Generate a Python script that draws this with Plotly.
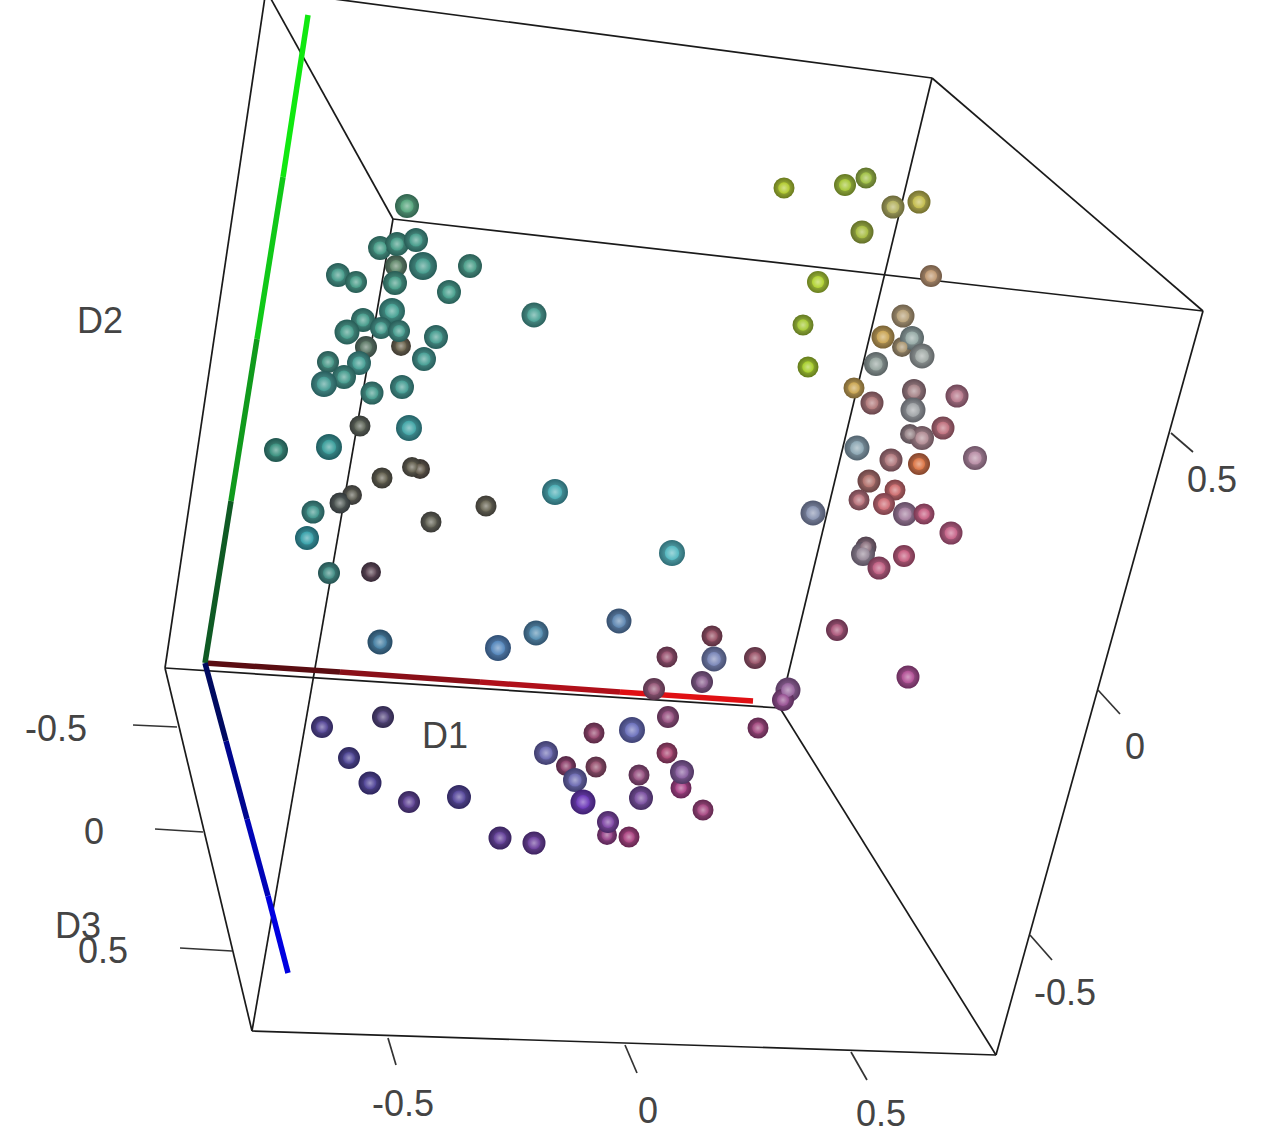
import plotly.graph_objects as go

teal_x = [407, 380, 397, 416, 423, 470, 338, 356, 395, 449, 534, 392, 363, 381, 399, 347, 436, 424, 328, 359, 344, 324, 372, 402, 276, 329, 409, 313, 307, 329, 555, 672]
teal_y = [206, 248, 244, 240, 266, 266, 275, 282, 283, 292, 315, 311, 320, 328, 331, 332, 337, 359, 362, 363, 377, 384, 393, 387, 450, 447, 428, 512, 538, 573, 492, 553]
teal_d = [24, 24, 24, 24, 28, 24, 24, 22, 24, 24, 25, 26, 24, 22, 22, 25, 24, 24, 22, 24, 24, 26, 23, 24, 24, 26, 26, 23, 24, 22, 26, 26]
teal_c = ["#3f9a6c", "#2f8f78", "#2f8f78", "#2f8f7c", "#2f9080", "#33927a", "#2f8f7c", "#2f8f78", "#2f8f78", "#30947f", "#36988a", "#2f9686", "#2f8f7c", "#2f8f80", "#2f8f80", "#2f8f7c", "#2f9082", "#2f9286", "#2f8a78", "#2f9488", "#2f8f80", "#2f9088", "#2f9080", "#2f9286", "#20826e", "#21928e", "#2a9a9c", "#2a8a80", "#1f96a0", "#2a7f76", "#35a4ac", "#3fb0b8"]

dark_x = [396, 366, 401, 360, 382, 420, 412, 352, 340, 431, 486, 371]
dark_y = [266, 347, 346, 426, 478, 469, 467, 495, 503, 522, 506, 572]
dark_d = [22, 22, 20, 21, 21, 20, 20, 20, 21, 21, 21, 20]
dark_c = ["#4f7a5a", "#4a6a55", "#5a5138", "#4a5244", "#4f4c38", "#4a4030", "#4f4a38", "#4a4a3e", "#3f4a46", "#505040", "#55523e", "#4a3040"]

blue_x = [380, 498, 536, 619, 714, 632, 546, 575]
blue_y = [642, 648, 633, 621, 659, 730, 753, 780]
blue_d = [25, 26, 25, 25, 25, 26, 24, 24]
blue_c = ["#2f7098", "#3f78b4", "#3f80a8", "#4a78a8", "#6a78b0", "#5a60b4", "#5a58a8", "#5a58a8"]

purple_x = [322, 383, 349, 370, 409, 459, 500, 534, 583, 641, 682, 608, 788, 783]
purple_y = [727, 717, 758, 783, 802, 797, 838, 843, 802, 798, 772, 822, 690, 700]
purple_d = [22, 22, 22, 23, 22, 24, 23, 23, 25, 24, 24, 22, 25, 22]
purple_c = ["#40308a", "#40306e", "#382e88", "#3a2c8a", "#4a2a86", "#40308e", "#50288c", "#5a2890", "#5a20b0", "#6a3a94", "#7a4a94", "#70309a", "#8a5090", "#8a3a84"]

magenta_x = [712, 667, 755, 702, 654, 668, 758, 594, 667, 566, 596, 639, 681, 703, 607, 629, 837, 908]
magenta_y = [636, 657, 658, 682, 689, 717, 728, 733, 753, 766, 767, 775, 788, 810, 835, 837, 630, 677]
magenta_d = [21, 21, 22, 22, 22, 22, 21, 21, 21, 20, 21, 21, 21, 21, 20, 21, 22, 23]
magenta_c = ["#8a3a50", "#8a3a5c", "#8f4058", "#7a4a80", "#8a4468", "#8a3a70", "#96306e", "#8a2f5c", "#a02f60", "#802a5a", "#8a3a5c", "#8a3a70", "#a02a78", "#9a2f70", "#8a2a7a", "#a02a70", "#a04068", "#a83a88"]

olive_x = [784, 845, 866, 893, 919, 862, 818, 803, 808, 931, 903, 883, 854]
olive_y = [188, 185, 178, 207, 202, 232, 282, 325, 367, 276, 316, 337, 388]
olive_d = [21, 22, 21, 23, 23, 23, 22, 21, 21, 22, 23, 23, 21]
olive_c = ["#a8c414", "#9cc020", "#94b82c", "#aaa84a", "#bcb436", "#9cb428", "#a8ce18", "#9cc41c", "#9cc810", "#b88c60", "#b09668", "#c49a40", "#c49a3c"]

rose_x = [902, 912, 922, 876, 872, 914, 913, 957, 857, 891, 919, 943, 910, 922, 975, 869, 895, 859, 884, 905, 924, 813, 951, 866, 863, 904, 879]
rose_y = [347, 338, 356, 364, 403, 391, 410, 396, 448, 460, 464, 428, 434, 438, 458, 481, 490, 500, 504, 514, 514, 513, 533, 547, 554, 556, 568]
rose_d = [20, 24, 25, 24, 23, 24, 25, 23, 25, 23, 22, 23, 20, 24, 24, 23, 21, 21, 22, 24, 21, 25, 23, 21, 24, 22, 23]
rose_c = ["#a08a60", "#8aa09c", "#96a09c", "#8a9a94", "#a8686a", "#9a7478", "#94989c", "#b0687e", "#7e9caa", "#a8686e", "#d8642e", "#b8606e", "#8a7478", "#a87e86", "#b0809a", "#a8605a", "#c85a5c", "#b0606a", "#c85a64", "#9a7094", "#c04a72", "#7a86a8", "#c0507a", "#7a5c6c", "#8a7a8c", "#c04a70", "#b84a72"]

box_x = [266, 932, None, 932, 1203, None, 1203, 393, None, 393, 266, None,
         165, 780, None, 780, 996, None, 996, 252, None, 252, 165, None,
         266, 165, None, 932, 780, None, 1203, 996, None, 393, 252]
box_y = [-10, 78, None, 78, 311, None, 311, 219, None, 219, -10, None,
         668, 708, None, 708, 1055, None, 1055, 1031, None, 1031, 668, None,
         -10, 668, None, 78, 708, None, 311, 1055, None, 219, 1031]

tick_x = [388, 396, None, 625, 637, None, 851, 867, None,
          1171, 1193, None, 1098, 1120, None, 1030, 1052, None,
          177, 133, None, 203, 155, None, 232, 180]
tick_y = [1038, 1065, None, 1045, 1073, None, 1052, 1080, None,
          433, 452, None, 690, 714, None, 935, 960, None,
          727, 725, None, 832, 829, None, 951, 948]

red_x = [205, 340, 480, 620, 753]
red_y = [663, 672, 682, 692, 701]
red_c = ["#5a0d12", "#8a0f18", "#b0101a", "#e01014"]

green_x = [205, 231, 257, 283, 308]
green_y = [663, 501, 339, 177, 15]
green_c = ["#0f5a24", "#109a1c", "#10c818", "#10e810"]

blue_axis_x = [205, 226, 247, 268, 288]
blue_axis_y = [663, 741, 819, 896, 973]
blue_axis_c = ["#000a60", "#00068e", "#0004b8", "#0000e0"]

label_text = ["D2", "D1", "D3", "-0.5", "0", "0.5", "-0.5", "0", "0.5", "0.5", "0", "-0.5"]
label_x = [100, 445, 78, 56, 94, 103, 403, 648, 881, 1212, 1135, 1065]
label_y = [320, 735, 925, 728, 831, 950, 1103, 1110, 1113, 479, 746, 992]


def mix(hex_color, target, t):
    a = [int(hex_color[i:i + 2], 16) for i in (1, 3, 5)]
    return "rgb(%d,%d,%d)" % tuple(a[i] + (target[i] - a[i]) * t for i in range(3))


def spheres(fig, x, y, d, c):
    # body: dark rim fading into the base colour
    # opacity has to be set, plotly makes sized markers see-through otherwise
    fig.add_trace(go.Scatter(
        x=x, y=y, mode="markers", hoverinfo="skip",
        marker=dict(size=d, opacity=1, color=[mix(v, (30, 30, 40), 0.45) for v in c],
                    gradient=dict(type="radial", color=[mix(v, (255, 255, 255), 0.22) for v in c]),
                    line=dict(width=0))))
    # small highlight in the middle
    fig.add_trace(go.Scatter(
        x=x, y=y, mode="markers", hoverinfo="skip",
        marker=dict(size=[v * 0.55 for v in d], opacity=1, color=[mix(v, (255, 255, 255), 0.1) for v in c],
                    gradient=dict(type="radial", color=[mix(v, (255, 255, 255), 0.5) for v in c]),
                    line=dict(width=0))))


fig = go.Figure()

fig.add_trace(go.Scatter(x=box_x, y=box_y, mode="lines", line=dict(color="#1a1a1a", width=1.7), hoverinfo="skip"))
fig.add_trace(go.Scatter(x=tick_x, y=tick_y, mode="lines", line=dict(color="#333333", width=1.7), hoverinfo="skip"))

# axis lines fade with depth, so each one is a few short pieces
for xs, ys, cs in [(red_x, red_y, red_c), (green_x, green_y, green_c), (blue_axis_x, blue_axis_y, blue_axis_c)]:
    for i in range(len(cs)):
        fig.add_trace(go.Scatter(x=xs[i:i + 2], y=ys[i:i + 2], mode="lines",
                                 line=dict(color=cs[i], width=5.5), hoverinfo="skip"))

spheres(fig, olive_x, olive_y, olive_d, olive_c)
spheres(fig, rose_x, rose_y, rose_d, rose_c)
spheres(fig, dark_x, dark_y, dark_d, dark_c)
spheres(fig, teal_x, teal_y, teal_d, teal_c)
spheres(fig, magenta_x, magenta_y, magenta_d, magenta_c)
spheres(fig, blue_x, blue_y, blue_d, blue_c)
spheres(fig, purple_x, purple_y, purple_d, purple_c)

for t, x, y in zip(label_text, label_x, label_y):
    fig.add_annotation(x=x, y=y, text=t, showarrow=False, xanchor="center", yanchor="middle",
                       font=dict(family="Liberation Sans", size=36, color="#444444"))

fig.update_layout(
    width=1266, height=1130,
    margin=dict(l=0, r=0, t=0, b=0),
    paper_bgcolor="white", plot_bgcolor="white",
    showlegend=False,
    xaxis=dict(range=[0, 1266], visible=False),
    yaxis=dict(range=[1130, 0], visible=False),
)

fig.write_html("out.html", config={"displayModeBar": False},
               post_script="document.body.style.margin='0';document.body.style.overflow='hidden';")
